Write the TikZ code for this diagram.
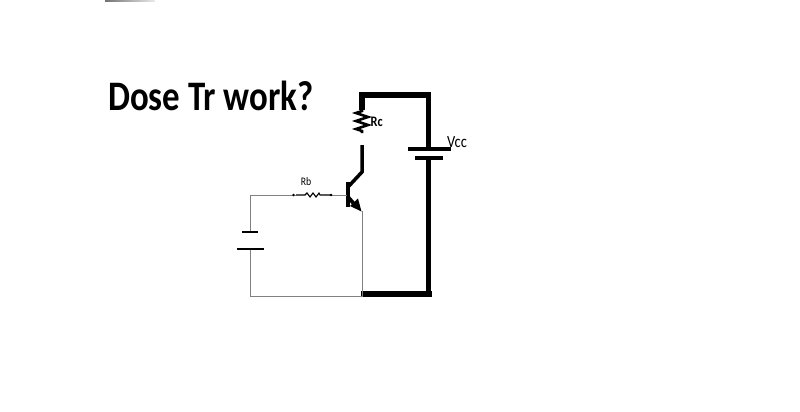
\documentclass[tikz,border=0pt]{standalone}
\usepackage{fontspec}
\setmainfont{Carlito}
\usetikzlibrary{arrows.meta}
\tikzset{
  x=1pt,y=-1pt,
  thickwire/.style={line width=5.5pt,black,line cap=butt},
  medwire/.style={line width=3.5pt,black,line join=miter},
  thinwire/.style={line width=1pt,black!50},
  plate/.style={line width=3.5pt,black},
  smallplate/.style={line width=2pt,black},
  lab/.style={inner sep=0pt,text=black}
}
\begin{document}
\begin{tikzpicture}
\useasboundingbox (0,0) rectangle (800,412);
\fill[left color=black!55,right color=black!8] (105,0) rectangle (155,1.2);
\node[font=\bfseries\fontsize{42}{42}\selectfont,anchor=base west,inner sep=0pt] (title) at (108,110) {\scalebox{0.83}[1]{Dose Tr work?}};
% coordinates
\coordinate (tl) at (362,95);
\coordinate (tr) at (428.5,95);
\coordinate (vcctop) at (428.5,149);
\coordinate (vccbot) at (428.5,160);
\coordinate (br) at (428.5,294);
\coordinate (bm) at (361,294);
\coordinate (rct) at (362,110);
\coordinate (rcb) at (362,133);
\coordinate (cu) at (362,145);
\coordinate (cd) at (362,172);
\coordinate (bj) at (348,187);
\coordinate (ej) at (348,197);
\coordinate (et) at (361.5,211.5);
\coordinate (gt) at (362,211);
\coordinate (gb) at (362,296);
\coordinate (bl) at (250,296);
\coordinate (tlb) at (250,195);
\coordinate (b1) at (296,195);
\coordinate (b2) at (332,195);
\coordinate (bb) at (347,195);
% thick loop
\draw[thickwire] (rct) -- (362,92.25);
\draw[thickwire] (359.5,95) -- (tr) -- (vcctop);
\draw[thickwire] (vccbot) -- (br);
\draw[thickwire] (br) ++(3,0) -- (bm);
\draw[plate] (408,149) -- (451,149);
\draw[plate,line width=4pt] (415,158) -- (443,158);
% Rc
\draw[line width=2.6pt,black,line join=miter] (rct) -- (362,111) -- (356,113) -- (368,117) -- (356,121) -- (368,125) -- (356,129) -- (362,131) -- (rcb);
\node[lab,font=\fontsize{14.5}{14.5}\selectfont\bfseries,anchor=base west] (rc) at (370.5,126) {\scalebox{0.85}[1]{Rc}};
\node[lab,font=\fontsize{17}{17}\selectfont,anchor=base west] (vcc) at (447,147.5) {\scalebox{0.85}[1]{Vcc}};
% transistor
\draw[medwire] (cu) -- (cd) -- (bj);
\draw[line width=4pt,black] (347.5,182) -- (347.5,207);
\draw[line width=3.8pt,black] (ej) -- (355,205);
\fill[black] (et) -- (350,206) -- (358,198.5) -- cycle;
% thin wires
\draw[thinwire] (gt) -- (gb) -- (bl) -- (250,249);
\draw[thinwire] (250,232) -- (tlb) -- (b1);
\draw[thinwire] (b2) -- (bb);
\draw[smallplate] (242,232) -- (258,232);
\draw[smallplate] (237,249) -- (264,249);
% Rb
\draw[line width=1.1pt,black,line join=miter] (b1) -- (305,195) -- (307,193) -- (310,197) -- (313,193) -- (316,197) -- (319,193) -- (320,195) -- (b2);
\fill (293.5,195) circle (1.4);
\fill (331,195) circle (1.4);
\node[lab,font=\fontsize{11.5}{11.5}\selectfont,anchor=base] (rb) at (306,185.5) {\scalebox{0.85}[1]{Rb}};
\end{tikzpicture}
\end{document}
